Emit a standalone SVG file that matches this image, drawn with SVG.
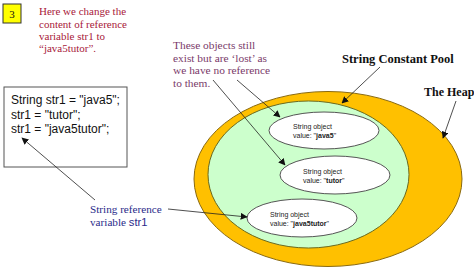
<svg xmlns="http://www.w3.org/2000/svg" width="474" height="271" viewBox="0 0 474 271">
<style>
.serif{font-family:"Liberation Serif","Times New Roman",serif}
.sans{font-family:"Liberation Sans",Arial,sans-serif}
.obj{fill:#fff;stroke:#555;stroke-width:1}
.small{font-size:7px;fill:#222}
.line{stroke:#222;stroke-width:0.8;fill:none}
</style>
<defs>
<marker id="ah" viewBox="0 0 10 10" refX="9" refY="5" markerWidth="7" markerHeight="7" markerUnits="userSpaceOnUse" orient="auto">
<path d="M0,0 L10,5 L0,10 z" fill="#111"/>
</marker>
</defs>
<rect width="474" height="271" fill="#fff"/>
<g id="step">
<rect x="3" y="4" width="18" height="19" fill="#ffff00" stroke="#333" stroke-width="1"/>
<text x="12" y="18" text-anchor="middle" class="serif" font-size="11" fill="#111">3</text>
</g>
<g id="note-top" class="serif" font-size="11" fill="#a8203a">
<text x="39" y="15">Here we change the</text>
<text x="39" y="27.5">content of reference</text>
<text x="39" y="40">variable str1 to</text>
<text x="39" y="52">“java5tutor”.</text>
</g>
<g id="code">
<rect x="4" y="87" width="123" height="80" fill="#fff" stroke="#555" stroke-width="1"/>
<g class="sans" font-size="12" fill="#111">
<text x="11" y="104">String str1 = "java5";</text>
<text x="11" y="118.5">str1 = "tutor";</text>
<text x="11" y="133">str1 = "java5tutor";</text>
</g>
</g>
<g id="heap">
<ellipse cx="328" cy="179" rx="134" ry="87.5" fill="#ffc000" stroke="#8a6a10" stroke-width="1"/>
</g>
<g id="pool">
<ellipse cx="308.5" cy="174.5" rx="100.5" ry="73.5" fill="#ccffcc" stroke="#6a6a20" stroke-width="1"/>
</g>
<g id="obj-java5">
<ellipse class="obj" cx="324" cy="130.5" rx="55" ry="18.5"/>
<text x="293" y="129" class="sans small">String object</text>
<text x="293" y="138" class="sans small">value: "<tspan font-weight="bold">java5</tspan>"</text>
</g>
<g id="obj-tutor">
<ellipse class="obj" cx="335" cy="175" rx="55" ry="19"/>
<text x="303" y="173.5" class="sans small">String object</text>
<text x="303" y="182.5" class="sans small">value: "<tspan font-weight="bold">tutor</tspan>"</text>
</g>
<g id="obj-java5tutor">
<ellipse class="obj" cx="302" cy="218" rx="55" ry="19"/>
<text x="270" y="216.5" class="sans small">String object</text>
<text x="270" y="225.5" class="sans small">value: "<tspan font-weight="bold">java5tutor</tspan>"</text>
</g>
<g id="note-lost" class="serif" font-size="11.4" fill="#7a3a6a">
<text x="173" y="49">These objects still</text>
<text x="173" y="61.5">exist but are ‘lost’ as</text>
<text x="173" y="74">we have no reference</text>
<text x="173" y="86.5">to them.</text>
</g>
<g id="label-pool">
<text x="342" y="63" class="serif" font-size="12.5" font-weight="bold" fill="#111">String Constant Pool</text>
</g>
<g id="label-heap">
<text x="424" y="96" class="serif" font-size="12" font-weight="bold" fill="#111">The Heap</text>
</g>
<g id="label-ref" class="serif" font-size="11.2" fill="#2a2a8a">
<text x="90" y="213">String reference</text>
<text x="90" y="226">variable <tspan class="sans">str1</tspan></text>
</g>
<g id="connectors">
<line class="line" x1="95" y1="200" x2="22" y2="138" marker-end="url(#ah)"/>
<line class="line" x1="168" y1="209" x2="247" y2="217" marker-end="url(#ah)"/>
<line class="line" x1="213" y1="80" x2="285" y2="165" marker-end="url(#ah)"/>
<line class="line" x1="237" y1="80" x2="280" y2="117" marker-end="url(#ah)"/>
<line class="line" x1="380" y1="67" x2="342" y2="103" marker-end="url(#ah)"/>
<line class="line" x1="456" y1="101" x2="443" y2="138" marker-end="url(#ah)"/>
</g>
</svg>
